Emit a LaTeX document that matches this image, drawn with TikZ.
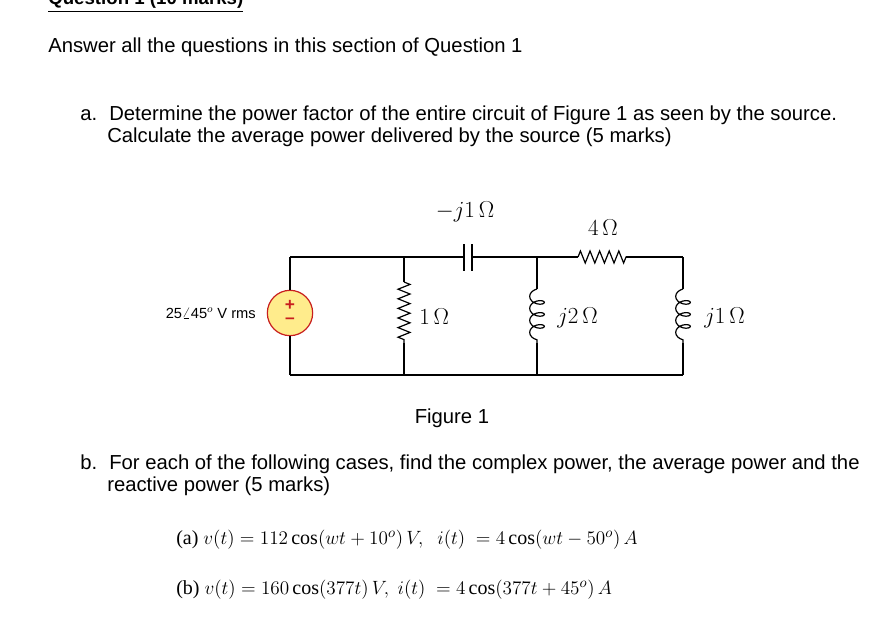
\documentclass[tikz,border=0pt]{standalone}
\usepackage{fontspec}
\setmainfont{Liberation Sans}
\newfontfamily\serif{Liberation Serif}
\usepackage{amsmath}
\usetikzlibrary{decorations.pathmorphing,positioning,calc}
\definecolor{srcred}{RGB}{200,30,30}
\definecolor{srcfill}{RGB}{255,236,140}
\tikzset{
  txt/.style={anchor=west,inner sep=0pt,font=\fontsize{15.2}{18}\selectfont},
  eqn/.style={anchor=west,inner sep=0pt,font=\serif\fontsize{15}{18}\selectfont},
  lbl/.style={inner sep=0.75pt,font=\fontsize{17}{19}\selectfont},
  wire/.style={line width=0.9pt},
  res/.style={wire,decorate,decoration={zigzag,segment length=7.2,amplitude=4.5}},
  ind/.style={wire,decorate,decoration={coil,aspect=0.6,segment length=9,amplitude=5.5,mirror}},
}
\begin{document}
\begin{tikzpicture}[x=0.75pt,y=0.75pt,yscale=-1,xscale=1]
  \useasboundingbox (0,0) rectangle (896,642);

  % Text
  \node[txt,font=\bfseries\fontsize{14}{16}\selectfont] (qtitle) at (48,2) {\underline{Question 1 (10 marks)}};
  \node[txt] (intro) at (48,47) {Answer all the questions in this section of Question 1};
  \node[txt] (pa1) at (80,115) {a.\hspace{0.6em}Determine the power factor of the entire circuit of Figure 1 as seen by the source.};
  \node[txt] (pa2) at (107,137) {Calculate the average power delivered by the source (5 marks)};
  \node[txt,anchor=center] (fig) at (452,418) {Figure 1};
  \node[txt] (pb1) at (80,464) {b.\hspace{0.6em}For each of the following cases, find the complex power, the average power and the};
  \node[txt] (pb2) at (107,486) {reactive power (5 marks)};
  \node[eqn] (eqa) at (176,540) {(a) $v(t)=112\,$cos$(wt+10^{o})\,V,\;\; i(t)\;=4\,$cos$(wt-50^{o})\,A$};
  \node[eqn] (eqb) at (176,590) {(b) $v(t)=160\,$cos$(377t)\,V,\; i(t)\;=4\,$cos$(377t+45^{o})\,A$};

  % Circuit nodes
  \coordinate (tl) at (290,257);
  \coordinate (bl) at (290,375);
  \coordinate (ta) at (404,257);
  \coordinate (ba) at (404,375);
  \coordinate (tb) at (537,257);
  \coordinate (bb) at (537,375);
  \coordinate (tc) at (683,257);
  \coordinate (bc) at (683,375);

  % source
  \node[circle,draw=srcred,fill=srcfill,line width=0.9pt,minimum size=34,inner sep=0pt] (src) at (290,313) {};
  \node[text=srcred,inner sep=0pt,font=\bfseries\fontsize{13}{13}\selectfont] at (290,305) {+};
  \node[text=srcred,inner sep=0pt,font=\bfseries\fontsize{13}{13}\selectfont] at (290,321) {\textendash};
  \draw[wire] (tl) -- (src.north);
  \draw[wire] (src.south) -- (bl);

  % top wires
  \coordinate (c1) at (464,257);
  \coordinate (c2) at (472,257);
  \coordinate (r1) at (578,257);
  \coordinate (r2) at (626,257);
  \draw[wire] (tl) -- (ta) -- (c1);
  \draw[wire] (c1 |- 0,244) -- (c1 |- 0,271);
  \draw[wire] (c2 |- 0,244) -- (c2 |- 0,271);
  \draw[wire] (c2) -- (tb) -- (r1);
  \draw[res] (r1) -- (r2);
  \draw[wire] (r2) -- (tc);

  % bottom wire
  \draw[wire] (bl) -- (ba) -- (bb) -- (bc);

  % 1 ohm
  \coordinate (ra1) at (404,282);
  \coordinate (ra2) at (404,343);
  \draw[wire] (ta) -- (ra1);
  \draw[res] (ra1) -- (ra2);
  \draw[wire] (ra2) -- (ba);

  % inductors
  \foreach \n in {b,c}{
    \coordinate (l\n1) at ($(t\n)+(0,32)$);
    \coordinate (l\n2) at ($(t\n)+(0,86)$);
  }
  \draw[wire] (tb) -- (lb1); \draw[ind] (lb1) -- (lb2); \draw[wire] (lb2) -- (bb);
  \draw[wire] (tc) -- (lc1); \draw[ind] (lc1) -- (lc2); \draw[wire] (lc2) -- (bc);

  % labels
  \node[lbl] at (465,212) {$-j1\,\Omega$};
  \node[lbl] at (603,228) {$4\,\Omega$};
  \node[lbl,anchor=west] at (418,317) {$1\,\Omega$};
  \node[lbl,anchor=west] at (556,318) {$j2\,\Omega$};
  \node[lbl,anchor=west] at (703,318) {$j1\,\Omega$};
  \node[inner sep=0pt,anchor=east,font=\fontsize{11}{12}\selectfont] at (256,313) {25$\angle$45$^{o}$ V rms};
\end{tikzpicture}
\end{document}
